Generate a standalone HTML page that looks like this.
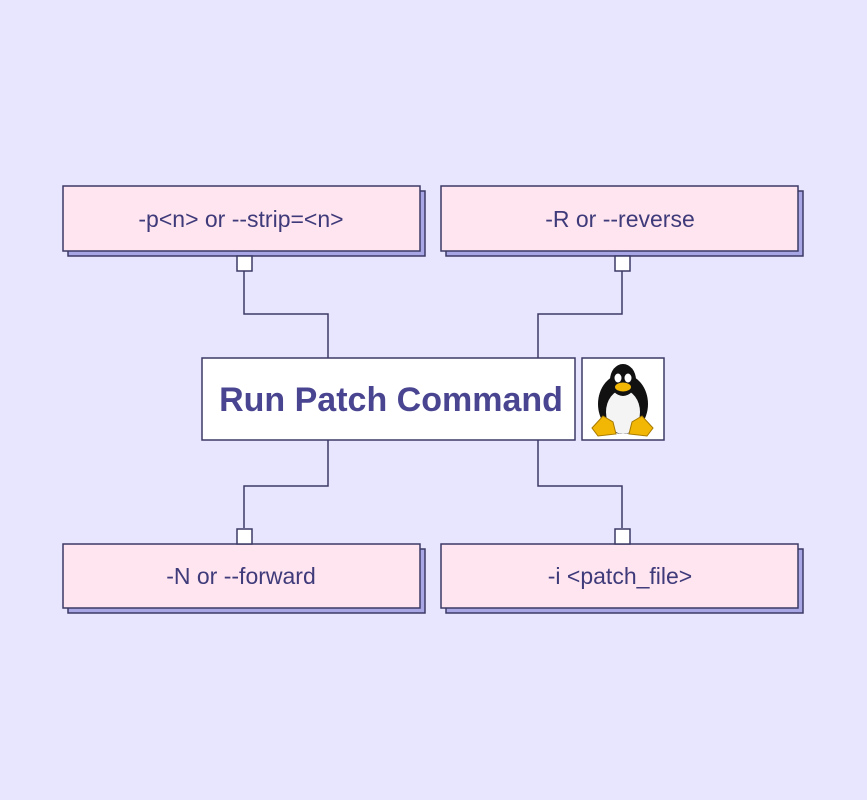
<!DOCTYPE html>
<html><head><meta charset="utf-8"><style>
html,body{margin:0;padding:0;background:#e8e6fe;}
svg{display:block}
text{font-family:"Liberation Sans",sans-serif;fill:#3f3a7a}
</style></head><body>
<svg width="867" height="800" viewBox="0 0 867 800">
<rect width="867" height="800" fill="#e8e6fe"/>
<g stroke="#3c3a66" stroke-width="1.5" fill="none">
<polyline points="244,271 244,314 328,314 328,358"/>
<polyline points="622,271 622,314 538,314 538,358"/>
<polyline points="328,440 328,486 244,486 244,528"/>
<polyline points="538,440 538,486 622,486 622,528"/>
</g>
<g stroke="#3c3a66" stroke-width="1.5">
<rect x="68" y="191" width="357" height="65" fill="#a9a6e6"/>
<rect x="63" y="186" width="357" height="65" fill="#fee5ef"/>
<rect x="446" y="191" width="357" height="65" fill="#a9a6e6"/>
<rect x="441" y="186" width="357" height="65" fill="#fee5ef"/>
<rect x="68" y="549" width="357" height="64" fill="#a9a6e6"/>
<rect x="63" y="544" width="357" height="64" fill="#fee5ef"/>
<rect x="446" y="549" width="357" height="64" fill="#a9a6e6"/>
<rect x="441" y="544" width="357" height="64" fill="#fee5ef"/>
<rect x="237" y="256" width="15" height="15" fill="#fff"/>
<rect x="615" y="256" width="15" height="15" fill="#fff"/>
<rect x="237" y="529" width="15" height="15" fill="#fff"/>
<rect x="615" y="529" width="15" height="15" fill="#fff"/>
<rect x="202" y="358" width="373" height="82" fill="#fff"/>
<rect x="582" y="358" width="82" height="82" fill="#fff"/>
</g>
<text x="241" y="227" font-size="23" text-anchor="middle">-p&lt;n&gt; or --strip=&lt;n&gt;</text>
<text x="620" y="227" font-size="23" text-anchor="middle">-R or --reverse</text>
<text x="241" y="584" font-size="23" text-anchor="middle">-N or --forward</text>
<text x="620" y="584" font-size="23" text-anchor="middle">-i &lt;patch_file&gt;</text>
<text x="391" y="411" font-size="34" font-weight="bold" text-anchor="middle" style="fill:#4a4590">Run Patch Command</text>
<g>
<ellipse cx="623" cy="404" rx="25" ry="30" fill="#111"/>
<ellipse cx="623" cy="412" rx="17" ry="22" fill="#f4f4f4"/>
<ellipse cx="623" cy="380" rx="13" ry="16" fill="#111"/>
<ellipse cx="618" cy="378" rx="3.5" ry="4.5" fill="#fff"/>
<ellipse cx="628" cy="378" rx="3.5" ry="4.5" fill="#fff"/>
<ellipse cx="623" cy="387" rx="8" ry="4.5" fill="#f2b705"/>
<path d="M592,428 L603,416 L613,422 L616,434 L598,436 Z" fill="#f2b705" stroke="#a87a00"/>
<path d="M653,428 L642,416 L632,422 L629,434 L647,436 Z" fill="#f2b705" stroke="#a87a00"/>
</g>
</svg>
</body></html>
